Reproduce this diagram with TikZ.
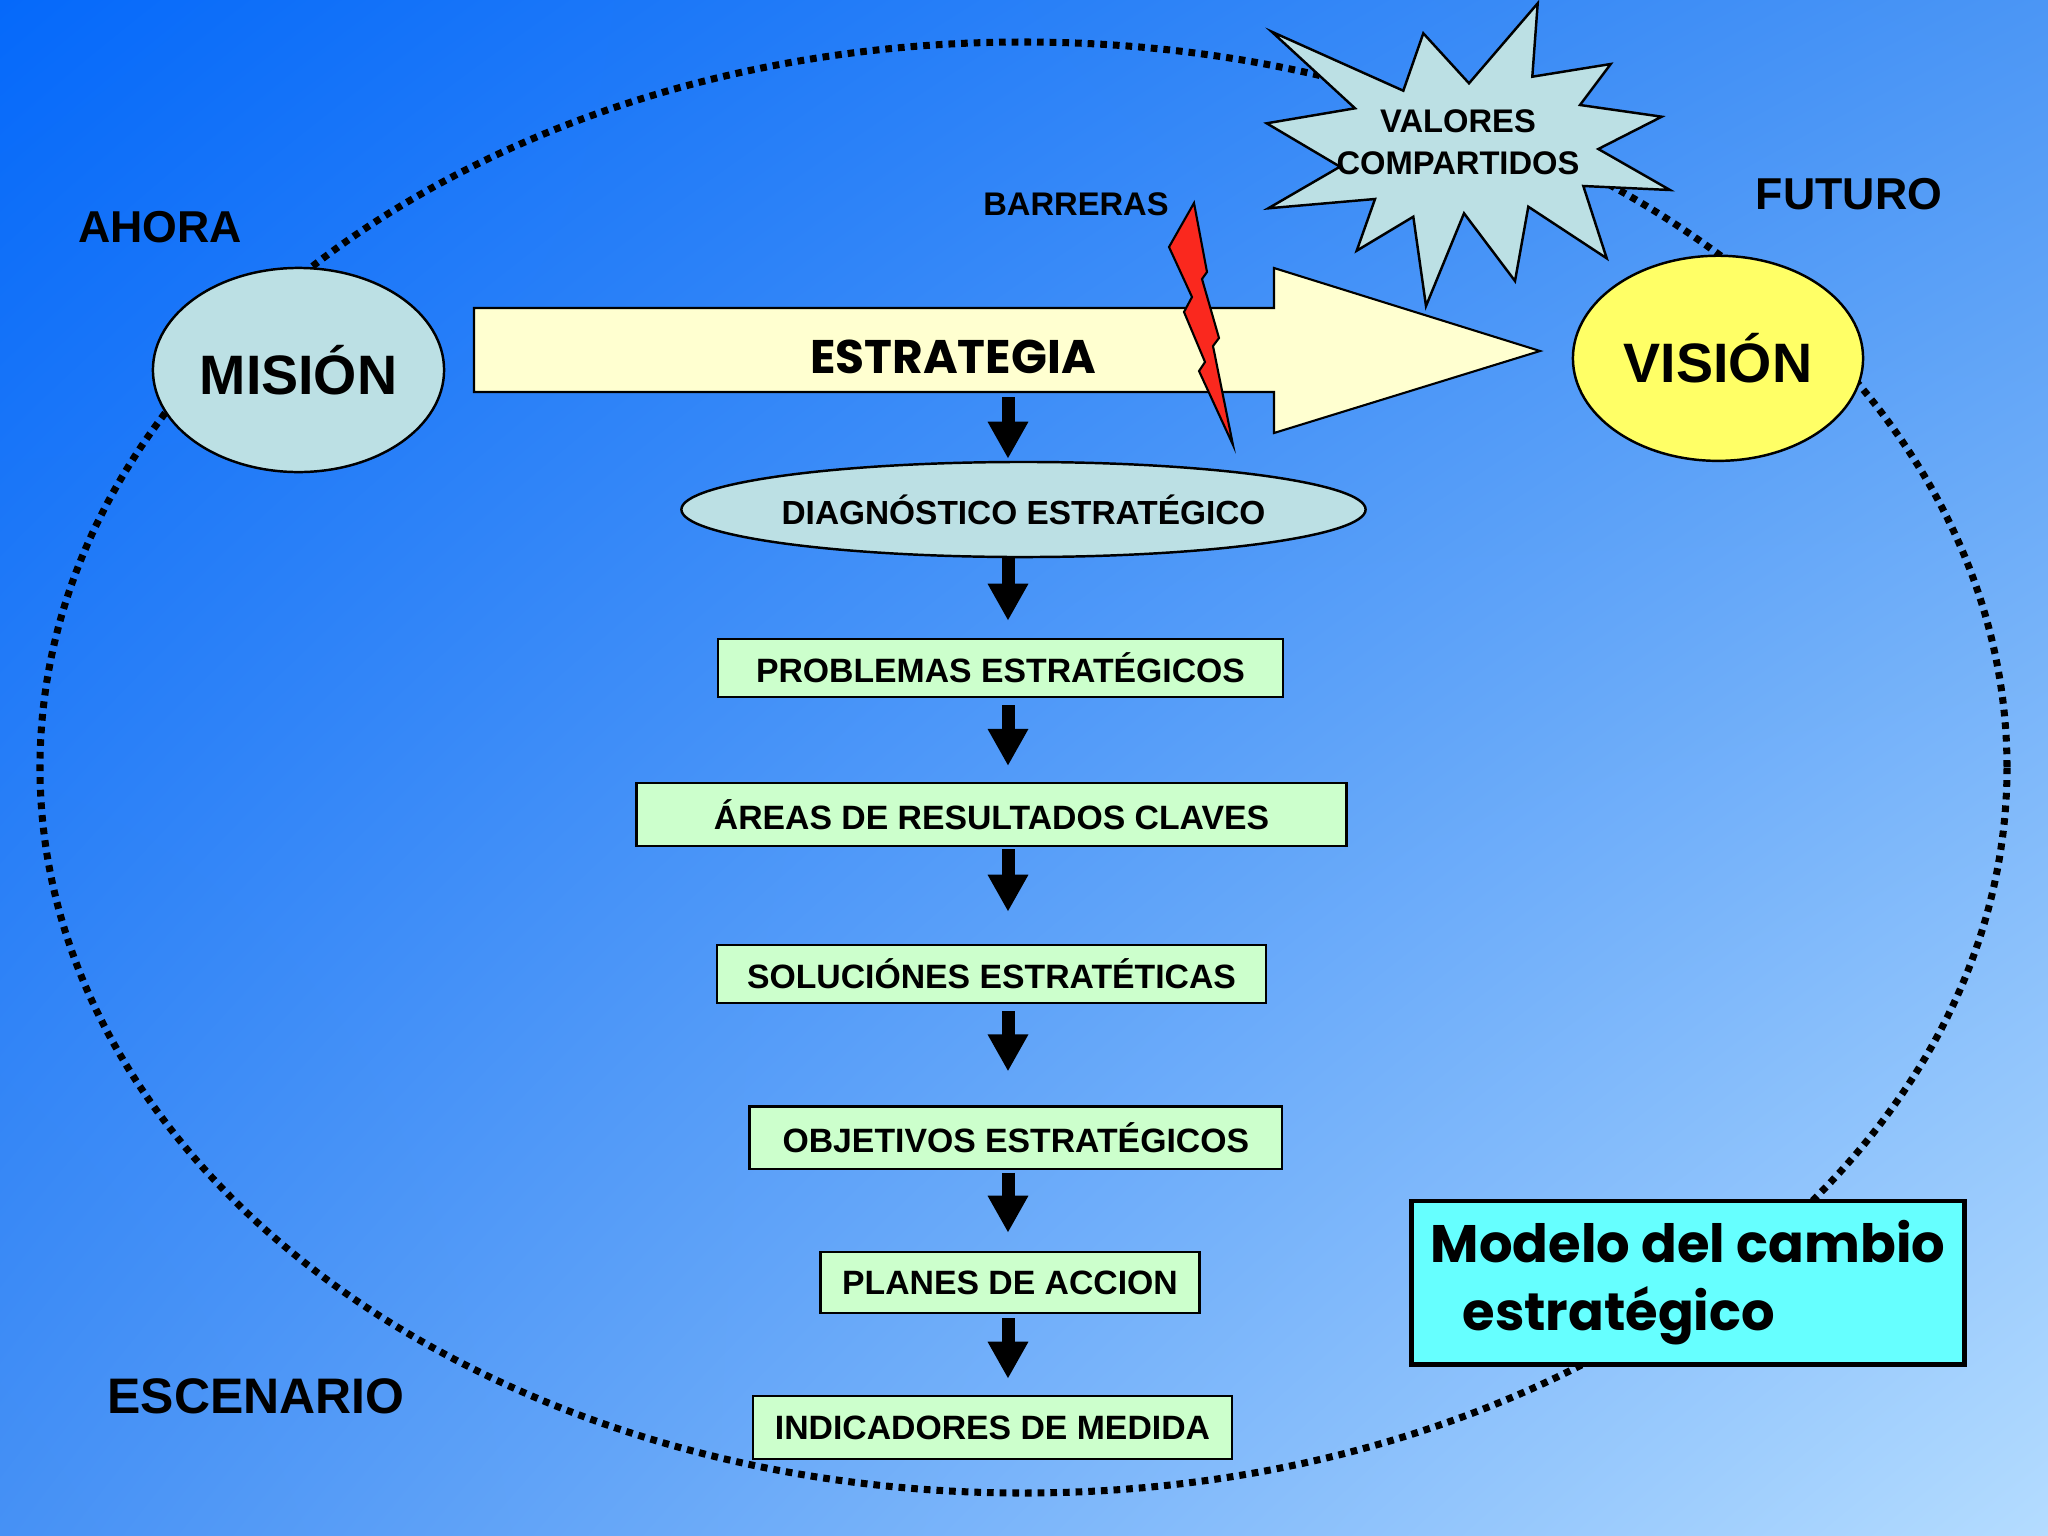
\documentclass[tikz,border=0pt]{standalone}
\usepackage{fontspec}
\setmainfont{Liberation Sans}
\newfontfamily\comicfont{Poppins}
\usetikzlibrary{arrows.meta,shapes.geometric,calc,shadings}
\definecolor{bgTL}{RGB}{5,105,250}
\definecolor{bgTR}{RGB}{75,150,245}
\definecolor{bgBL}{RGB}{70,145,245}
\definecolor{bgBR}{RGB}{180,220,255}
\definecolor{ovalfill}{RGB}{188,224,228}
\definecolor{boxgreen}{RGB}{204,255,204}
\definecolor{arrowcream}{RGB}{255,255,208}
\definecolor{visionyellow}{RGB}{255,255,102}
\definecolor{boltred}{RGB}{250,40,30}
\definecolor{modelcyan}{RGB}{102,255,255}
\begin{document}
\begin{tikzpicture}[x=0.01cm,y=-0.01cm,
  lbl/.style={inner sep=0pt},
  oval/.style={ellipse, draw, line width=0.7pt, inner sep=0pt},
  stepbox/.style={draw, line width=0.7pt, fill=boxgreen, inner sep=0pt,
    font=\fontsize{9.6}{11}\selectfont\bfseries},
  bigarrow/.style={line width=0.13cm, -{Triangle[width=0.38cm,length=0.37cm]}},
  dotring/.style={line width=2pt, dash pattern=on 1.9pt off 1.7pt}
]
\useasboundingbox (0,0) rectangle (2048,1536);
\shade[upper left=bgTL, upper right=bgTR, lower left=bgBL, lower right=bgBR] (0,0) rectangle (2048,1536);

% dotted scenario ellipse
\draw[dotring] (1023.5,767.5) ellipse [x radius=983.5, y radius=725.5];

% labels
\node[lbl, font=\fontsize{12.7}{14}\selectfont\bfseries] (ahora) at (160,227.5) {AHORA};
\node[lbl, font=\fontsize{12.7}{14}\selectfont\bfseries] (futuro) at (1849,194.5) {FUTURO};
\node[lbl, font=\fontsize{14.2}{16}\selectfont\bfseries] (escenario) at (256,1396) {ESCENARIO};

% strategy arrow
\draw[line width=0.6pt, fill=arrowcream] (474,308) -- (1274,308) -- (1274,268) -- (1540,351) -- (1274,433) -- (1274,392) -- (474,392) -- cycle;
\node[lbl, font={\comicfont\fontsize{13.4}{15}\selectfont\bfseries}] (estrtxt) at (953,356.5) {ESTRATEGIA};
\coordinate (estrbot) at (1008,397);
\coordinate (axis) at (1008,0);

% lightning bolt
\draw[line width=0.6pt, fill=boltred, line join=miter] (1194,203) -- (1207,272) -- (1202,279) -- (1219,338) -- (1213,346) -- (1233,445) -- (1199,371) -- (1205,362) -- (1184,312) -- (1192,297) -- (1169,247) -- cycle;
\node[lbl, font=\fontsize{9.3}{11}\selectfont\bfseries] (barreras) at (1076,204.5) {BARRERAS};

% starburst
\draw[line width=0.7pt, fill=ovalfill, line join=miter]
  (1271.7,31.7) -- (1403.3,90.7) -- (1423.3,33.3) -- (1469,83.3) -- (1537.7,3.3) -- (1532.3,76.7)
  -- (1610.7,64) -- (1580,105) -- (1661.7,116.7) -- (1598.3,149) -- (1670,190) -- (1583.3,186)
  -- (1606.7,258.3) -- (1528.3,206.7) -- (1515,281) -- (1464,213.3) -- (1426,306) -- (1413.3,216.7)
  -- (1356.7,250.7) -- (1375,199) -- (1268.3,208.3) -- (1340,166.7) -- (1266.7,123.3) -- (1355,108.3) -- cycle;
\node[lbl, align=center, font=\fontsize{9.3}{11.9}\selectfont\bfseries] (valores) at (1458,142.5) {VALORES\\COMPARTIDOS};

% mission / vision
\node[oval, fill=ovalfill, minimum width=2.91cm, minimum height=2.04cm,
  font=\fontsize{15.8}{18}\selectfont\bfseries] (mision) at (298.5,370) {MISIÓN};
\node[oval, fill=visionyellow, minimum width=2.90cm, minimum height=2.05cm,
  font=\fontsize{15.8}{18}\selectfont\bfseries] (vision) at (1718,358.3) {VISIÓN};

% chain
\node[oval, fill=ovalfill, minimum width=6.79cm, minimum height=0.95cm,
  font=\fontsize{9.5}{11}\selectfont\bfseries] (diag) at (1023.5,509.5) {DIAGNÓSTICO ESTRATÉGICO};
\node[stepbox, minimum width=5.65cm, minimum height=0.58cm] (prob) at (1000.5,668) {PROBLEMAS ESTRATÉGICOS};
\node[stepbox, minimum width=7.10cm, minimum height=0.63cm] (areas) at (991.5,814.7) {ÁREAS DE RESULTADOS CLAVES};
\node[stepbox, minimum width=5.485cm, minimum height=0.58cm] (sol) at (991.5,974) {SOLUCIÓNES ESTRATÉTICAS};
\node[stepbox, minimum width=5.325cm, minimum height=0.62cm] (obj) at (1015.8,1137.7) {OBJETIVOS ESTRATÉGICOS};
\node[stepbox, minimum width=3.79cm, minimum height=0.61cm] (planes) at (1010,1282.5) {PLANES DE ACCION};
\node[stepbox, minimum width=4.79cm, minimum height=0.63cm] (ind) at (992.5,1427.5) {INDICADORES DE MEDIDA};

\draw[bigarrow, shorten >=0.02cm] (estrbot) -- (diag.north -| axis);
\draw[bigarrow, shorten >=0.17cm] (diag.south -| axis) -- (prob.north -| axis);
\draw[bigarrow, shorten <=0.07cm, shorten >=0.16cm] (prob.south -| axis) -- (areas.north -| axis);
\draw[bigarrow, shorten <=0.02cm, shorten >=0.32cm] (areas.south -| axis) -- (sol.north -| axis);
\draw[bigarrow, shorten <=0.07cm, shorten >=0.34cm] (sol.south -| axis) -- (obj.north -| axis);
\draw[bigarrow, shorten <=0.03cm, shorten >=0.18cm] (obj.south -| axis) -- (planes.north -| axis);
\draw[bigarrow, shorten <=0.04cm, shorten >=0.16cm] (planes.south -| axis) -- (ind.north -| axis);

% model title box
\node[draw, line width=1.4pt, fill=modelcyan, minimum width=5.53cm, minimum height=1.63cm,
  inner sep=0pt, align=left, font={\comicfont\fontsize{15}{19.5}\selectfont\bfseries}] (modelo) at (1688,1282.5)
  {Modelo del cambio\\\hspace*{0.6em}estratégico};
\end{tikzpicture}
\end{document}
